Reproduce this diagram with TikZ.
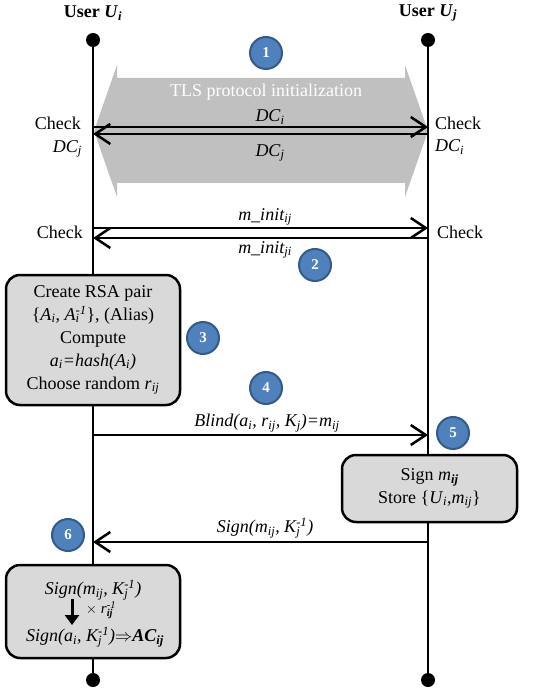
\documentclass[tikz,border=0pt]{standalone}
\usepackage{fontspec}
\setmainfont{Liberation Serif}
\usetikzlibrary{arrows.meta}
\definecolor{numblue}{RGB}{79,129,189}
\definecolor{numedge}{RGB}{50,90,140}
\definecolor{tlsgray}{RGB}{192,192,192}
\definecolor{boxgray}{RGB}{217,217,217}
\newcommand{\sbs}[1]{\textsubscript{\itshape #1}}
\newcommand{\sps}[1]{\textsuperscript{\itshape #1}}
\newcommand{\sbb}[1]{\textsubscript{\bfseries\itshape #1}}
\newcommand{\ssp}[2]{\rlap{\textsubscript{\itshape #1}}\textsuperscript{\itshape #2}}
\begin{document}
\begin{tikzpicture}[x=1pt,y=-1pt,
  every node/.style={font=\fontsize{18}{23}\selectfont, inner sep=0pt},
  lifeline/.style={line width=2.5pt},
  msg/.style={line width=2.5pt, -{Straight Barb[length=15pt,width=20pt]}},
  endpt/.style={circle, fill=black, minimum size=14pt},
  stepnum/.style={circle, fill=numblue, draw=numedge, line width=2pt, minimum size=32pt, text=white, font=\fontsize{15}{15}\selectfont\bfseries},
  procbox/.style={draw, line width=2.5pt, fill=boxgray, rounded corners=14pt, align=center},
  lbl/.style={font=\fontsize{18}{23}\selectfont\itshape}
]
\useasboundingbox (0,0) rectangle (550,692);

% TLS gray double arrow
\fill[tlsgray] (94,131) -- (117,65) -- (117,78) -- (405,78) -- (405,65) -- (428,131)
  -- (405,197) -- (405,183) -- (117,183) -- (117,197) -- cycle;
\node[text=white] (tls) at (266,92) {TLS protocol initialization};

% titles and end points
\node (uI) at (93,13) {\bfseries User \textit{U}\textsubscript{\itshape i}};
\node (uJ) at (428,13) {\bfseries User \textit{U}\textsubscript{\itshape j}};
\node[endpt] (iTop) at (93,40) {};
\node[endpt] (jTop) at (428,40) {};
\node[endpt] (iBot) at (93,680) {};
\node[endpt] (jBot) at (428,680) {};
\draw[lifeline] (iTop) -- (iBot);
\draw[lifeline] (jTop) -- (jBot);

% step 1 messages
\coordinate (i1) at (93,127); \coordinate (j1) at (428,127);
\coordinate (i2) at (93,134); \coordinate (j2) at (428,134);
\draw[msg] (i1) -- (j1);
\draw[msg] (j2) -- (i2);
\node[lbl] (l1) at (270,117) {DC\sbs{i}};
\node[lbl] (l2) at (270,153) {DC\sbs{j}};
\node[anchor=east] (c1) at (81,123) {Check};
\node[anchor=east, lbl] (c1b) at (82,149) {DC\sbs{j}};
\node[anchor=west] (c2) at (435,123) {Check};
\node[anchor=west, lbl] (c2b) at (435,147) {DC\sbs{i}};

% step 2 messages
\coordinate (i3) at (93,228); \coordinate (j3) at (428,228);
\coordinate (i4) at (93,238); \coordinate (j4) at (428,238);
\draw[msg] (i3) -- (j3);
\draw[msg] (j4) -- (i4);
\node[lbl] (l3) at (265,217) {m\_init\sbs{ij}};
\node[lbl] (l4) at (265,250) {m\_init\sbs{ji}};
\node[anchor=east] (c3) at (83,232) {Check};
\node[anchor=west] (c4) at (437,232) {Check};

% box 3
\node[procbox, minimum width=174pt, minimum height=130pt] (b3) at (93,340)
  {Create RSA pair\\
   \{\textit{A}\sbs{i}, \textit{A}\ssp{i}{-1}\}, (Alias)\\
   Compute\\
   \textit{a\textsubscript{i}=hash(A\textsubscript{i})}\\
   Choose random \textit{r}\sbs{ij}};

% blind message
\coordinate (i5) at (93,435); \coordinate (j5) at (428,435);
\draw[msg] (i5) -- (j5);
\node[lbl] (l5) at (267,423) {Blind(a\sbs{i}, r\sbs{ij}, K\sbs{j})=m\sbs{ij}};

% box 5
\node[procbox, minimum width=175pt, minimum height=67pt] (b5) at (429.5,488.5)
  {Sign \textit{m}\sbb{ij}\\
   Store \{\textit{U}\sbs{i},\textit{m}\sbs{ij}\}};

% sign message
\coordinate (j6) at (428,542); \coordinate (i6) at (93,542);
\draw[msg] (j6) -- (i6);
\node[lbl] (l6) at (265,528) {Sign(m\sbs{ij}, K\ssp{j}{-1})};

% box 6
\node[procbox, minimum width=174pt, minimum height=93pt] (b6) at (93,611.5) {};
\node[lbl] (s1) at (93,590) {Sign(m\sbs{ij}, K\ssp{j}{-1})};
\coordinate (arTop) at (72,599); \coordinate (arBot) at (72,625);
\draw[line width=3pt, -{Triangle[length=10pt,width=14pt]}] (arTop) -- (arBot);
\node (s2) at (101,610) {\fontsize{15}{15}\selectfont$\times$ \textit{r}\ssp{\bfseries ij}{-1}};
\node[lbl] (s3) at (95,637) {Sign(a\sbs{i}, K\ssp{j}{-1})$\Rightarrow$\textbf{AC}\sbb{ij}};

% step numbers
\node[stepnum] (n1) at (266,53) {1};
\node[stepnum] (n2) at (315,265) {2};
\node[stepnum] (n3) at (203,338) {3};
\node[stepnum] (n4) at (266,388) {4};
\node[stepnum] (n5) at (453,433) {5};
\node[stepnum] (n6) at (68,535) {6};
\end{tikzpicture}
\end{document}
